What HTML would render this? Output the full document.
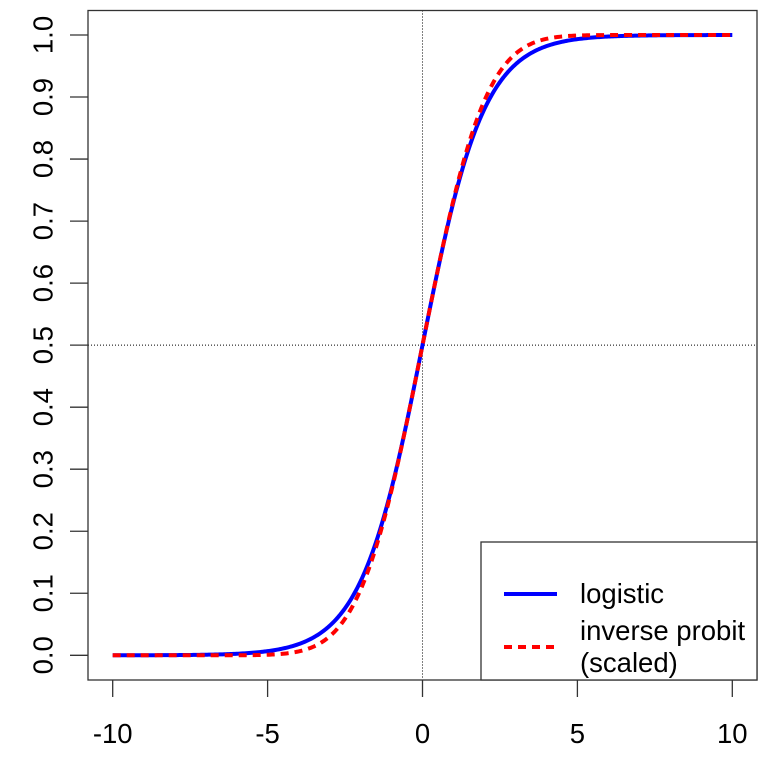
<!DOCTYPE html>
<html><head><meta charset="utf-8"><style>
html,body{margin:0;padding:0;background:#fff;}
svg{display:block;}
text{font-family:"Liberation Sans",Arial,sans-serif;font-size:27.5px;fill:#000;}
</style></head><body>
<svg id="s" width="768" height="768" viewBox="0 0 768 768" xmlns="http://www.w3.org/2000/svg">
<rect x="0" y="0" width="768" height="768" fill="#fff"/>
<!-- dotted reference lines -->
<line x1="422.5" y1="10.5" x2="422.5" y2="680" stroke="#000" stroke-width="1" stroke-dasharray="1 2"/>
<line x1="88" y1="345.1" x2="757" y2="345.1" stroke="#000" stroke-width="1" stroke-dasharray="1 2"/>
<path id="blue" d="" fill="none" stroke="#0000ff" stroke-width="4" stroke-linejoin="round"/>
<path id="red" d="" fill="none" stroke="#ff0000" stroke-width="4" stroke-dasharray="8 6"/>
<!-- plot box -->
<rect x="88" y="10.5" width="669" height="669.5" fill="none" stroke="#333" stroke-width="1.3"/>
<!-- y ticks -->
<g stroke="#333" stroke-width="1.3" id="yt"></g>
<g id="yl"></g>
<!-- x ticks -->
<g stroke="#333" stroke-width="1.3">
<line x1="112.7" y1="680" x2="112.7" y2="697"/>
<line x1="267.6" y1="680" x2="267.6" y2="697"/>
<line x1="422.5" y1="680" x2="422.5" y2="697"/>
<line x1="577.4" y1="680" x2="577.4" y2="697"/>
<line x1="732.3" y1="680" x2="732.3" y2="697"/>
</g>
<text x="112.7" y="743" text-anchor="middle">-10</text>
<text x="267.6" y="743" text-anchor="middle">-5</text>
<text x="422.5" y="743" text-anchor="middle">0</text>
<text x="577.4" y="743" text-anchor="middle">5</text>
<text x="732.3" y="743" text-anchor="middle">10</text>
<!-- legend -->
<rect x="481" y="542" width="276" height="138" fill="#fff" stroke="#333" stroke-width="1.3"/>
<line x1="504" y1="594" x2="557" y2="594" stroke="#0000ff" stroke-width="4"/>
<line x1="504" y1="647" x2="557" y2="647" stroke="#ff0000" stroke-width="4" stroke-dasharray="8 6"/>
<text x="580" y="603">logistic</text>
<text x="580" y="640">inverse probit</text>
<text x="580" y="672">(scaled)</text>
</svg>
<script>
(function(){
var X=function(v){return 422.5+30.98*v;};
var Y=function(v){return 655.3-620.3*v;};
function erf(x){var s=x<0?-1:1;x=Math.abs(x);var t=1/(1+0.3275911*x);
var y=1-(((((1.061405429*t-1.453152027)*t)+1.421413741)*t-0.284496736)*t+0.254829592)*t*Math.exp(-x*x);return s*y;}
function Phi(z){return 0.5*(1+erf(z/Math.SQRT2));}
var b="",r="";
for(var i=0;i<=400;i++){var x=-10+20*i/400;
var l=1/(1+Math.exp(-x)); var p=Phi(x/1.6);
b+=(i?"L":"M")+X(x).toFixed(2)+" "+Y(l).toFixed(2);
r+=(i?"L":"M")+X(x).toFixed(2)+" "+Y(p).toFixed(2);}
document.getElementById("blue").setAttribute("d",b);
document.getElementById("red").setAttribute("d",r);
var yt=document.getElementById("yt"),yl=document.getElementById("yl"),ns="http://www.w3.org/2000/svg";
for(var k=0;k<=10;k++){var v=k/10,y=Y(v);
var ln=document.createElementNS(ns,"line");ln.setAttribute("x1",70);ln.setAttribute("x2",88);ln.setAttribute("y1",y);ln.setAttribute("y2",y);yt.appendChild(ln);
var t=document.createElementNS(ns,"text");t.setAttribute("text-anchor","middle");t.setAttribute("transform","translate(52.5,"+y+") rotate(-90)");t.textContent=v.toFixed(1);yl.appendChild(t);}
})();
</script>
</body></html>
